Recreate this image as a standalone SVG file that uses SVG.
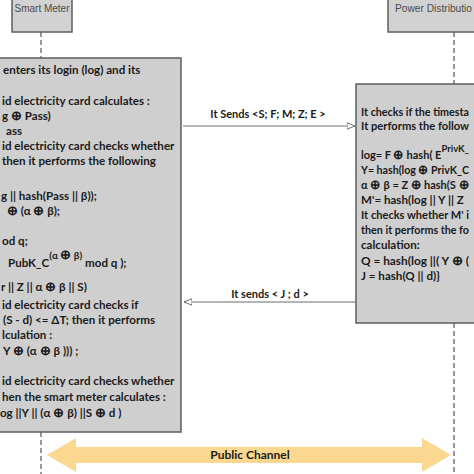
<svg xmlns="http://www.w3.org/2000/svg" width="474" height="474" viewBox="0 0 474 474">
<defs>
<style>
.box{fill:#cfcfcf;stroke:#5e5e5e;stroke-width:1.5}
.hdr{fill:#d2d2d2;stroke:#5e5e5e;stroke-width:1.5}
.life{stroke:#555;stroke-width:1.2;stroke-dasharray:5,3;fill:none}
.t{font-family:Lato,"Liberation Sans",sans-serif;font-weight:bold;font-size:11.6px;fill:#1a1a1a}
.o{font-size:12.5px}
.h{font-family:"Liberation Sans",Arial,sans-serif;font-size:10px;fill:#4a4a4a}
.sup{font-size:10px}
.msg{stroke:#6a6a6a;stroke-width:1.2;fill:none}
.lbl{font-family:Lato,"Liberation Sans",sans-serif;font-weight:bold;font-size:11px;fill:#1a1a1a;text-anchor:middle}
</style>
<marker id="tri" viewBox="0 0 10 10" refX="10" refY="5" markerWidth="8" markerHeight="8" markerUnits="userSpaceOnUse" orient="auto">
<path d="M0,1 L10,5 L0,9 Z" fill="#fff" stroke="#6a6a6a" stroke-width="1.2"/>
</marker>
</defs>

<g id="connectors">
<line class="life" x1="41" y1="32" x2="41" y2="58"/>
<line class="life" x1="41" y1="432" x2="41" y2="474"/>
<line class="life" x1="454" y1="32" x2="454" y2="84"/>
<line class="life" x1="454" y1="323" x2="454" y2="474"/>
<line class="msg" x1="183" y1="126" x2="355" y2="126" marker-end="url(#tri)"/>
<text class="lbl" x="268" y="118">It Sends &lt;S; F; M; Z; E &gt;</text>
<line class="msg" x1="356" y1="302" x2="184" y2="302" marker-end="url(#tri)"/>
<text class="lbl" x="270" y="298">It sends &lt; J ; d &gt;</text>
</g>

<g id="smart-meter">
<rect class="hdr" x="12" y="-5" width="60" height="37"/>
<text class="h" x="42" y="12" text-anchor="middle">Smart Meter</text>
</g>

<g id="power-distribution">
<rect class="hdr" x="388" y="-5" width="100" height="37"/>
<text class="h" x="395" y="12" textLength="77" lengthAdjust="spacingAndGlyphs">Power Distributio</text>
</g>

<g id="smart-meter-process">
<rect class="box" x="-10" y="58" width="191" height="374"/>
<text class="t" x="3" y="74">enters its login (log) and its</text>
<text class="t" x="2" y="105">id electricity card calculates :</text>
<text class="t" x="2" y="120">g <tspan class="o">⊕</tspan> Pass)</text>
<text class="t" x="6" y="135">ass</text>
<text class="t" x="2" y="150">id electricity card checks whether</text>
<text class="t" x="2" y="165">then it performs the following</text>
<text class="t" x="1" y="200">g || hash(Pass || β));</text>
<text class="t" x="7" y="215"><tspan class="o">⊕</tspan> (α <tspan class="o">⊕</tspan> β);</text>
<text class="t" x="2" y="245">od q;</text>
<text class="t" x="8" y="267">PubK_C<tspan class="sup" dy="-8">(α <tspan class="o">⊕</tspan> β)</tspan><tspan dy="8"> mod q );</tspan></text>
<text class="t" x="1" y="291">r || Z || α <tspan class="o">⊕</tspan> β || S)</text>
<text class="t" x="2" y="309">id electricity card checks if</text>
<text class="t" x="3" y="324">(S - d)  &lt;= ΔT;  then it performs</text>
<text class="t" x="2" y="339">lculation :</text>
<text class="t" x="3" y="355">Y <tspan class="o">⊕</tspan> (α <tspan class="o">⊕</tspan> β ))) ;</text>
<text class="t" x="2" y="385">id electricity card checks whether</text>
<text class="t" x="2" y="401">hen the smart meter calculates :</text>
<text class="t" x="0" y="417">og ||Y || (α <tspan class="o">⊕</tspan> β) ||S <tspan class="o">⊕</tspan> d )</text>
</g>

<g id="power-distribution-process">
<rect class="box" x="356" y="84" width="130" height="239"/>
<text class="t" x="361" y="116" textLength="108" lengthAdjust="spacingAndGlyphs">It checks if the timesta</text>
<text class="t" x="361" y="130" textLength="108" lengthAdjust="spacingAndGlyphs">It performs the follow</text>
<text class="t" x="361" y="159" textLength="108" lengthAdjust="spacingAndGlyphs">log= F <tspan class="o">⊕</tspan> hash( E<tspan class="sup" dy="-7">PrivK_</tspan></text>
<text class="t" x="361" y="174" textLength="108" lengthAdjust="spacingAndGlyphs">Y= hash(log <tspan class="o">⊕</tspan> PrivK_C</text>
<text class="t" x="361" y="189" textLength="108" lengthAdjust="spacingAndGlyphs">α <tspan class="o">⊕</tspan>  β = Z <tspan class="o">⊕</tspan> hash(S <tspan class="o">⊕</tspan></text>
<text class="t" x="361" y="204">M'= hash(log || Y || Z</text>
<text class="t" x="361" y="219" textLength="108" lengthAdjust="spacingAndGlyphs">It checks whether M' i</text>
<text class="t" x="361" y="234" textLength="108" lengthAdjust="spacingAndGlyphs">then it performs the fo</text>
<text class="t" x="361" y="249">calculation:</text>
<text class="t" x="361" y="265" textLength="108" lengthAdjust="spacingAndGlyphs">Q = hash(log ||( Y <tspan class="o">⊕</tspan> (</text>
<text class="t" x="361" y="280">J = hash(Q  || d)}</text>
</g>

<g id="public-channel">
<path d="M47,455 L76,438 L76,447 L422,447 L422,438 L451,455 L422,472 L422,463 L76,463 L76,472 Z" fill="#fad890"/>
<text class="t" x="250" y="459" text-anchor="middle" style="font-size:12px">Public Channel</text>
</g>
</svg>
